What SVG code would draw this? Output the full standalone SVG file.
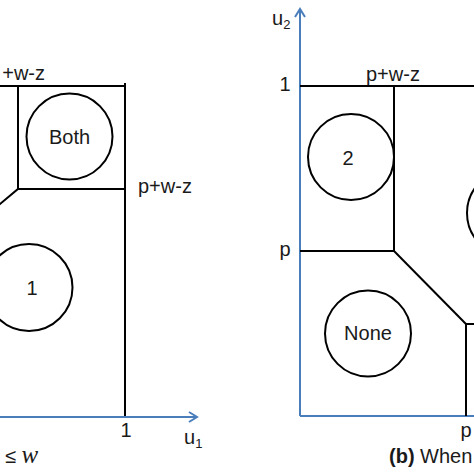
<svg xmlns="http://www.w3.org/2000/svg" width="474" height="474" viewBox="0 0 474 474">
<style>
.ln{stroke:#000;stroke-width:2;fill:none;stroke-linecap:square}
.ax{stroke:#4a7ebb;stroke-width:2;fill:none}
.c{stroke:#000;stroke-width:2;fill:none}
text{font-family:"Liberation Sans",Arial,sans-serif;font-size:20px;fill:#1a1a1a}
.m{text-anchor:middle}
.sub{font-size:13px}
</style>
<defs>
<marker id="arr" viewBox="0 0 12 12" refX="10" refY="6" markerWidth="12" markerHeight="12" markerUnits="userSpaceOnUse" orient="auto">
<path d="M2,1 L10,6 L2,11" fill="none" stroke="#4a7ebb" stroke-width="2"/>
</marker>
</defs>
<rect width="474" height="474" fill="#fff"/>
<g id="connectors">
<line class="ln" x1="0" y1="86" x2="125" y2="86"/>
<line class="ln" x1="18" y1="86" x2="18" y2="189"/>
<line class="ln" x1="18" y1="189" x2="125" y2="189"/>
<line class="ln" x1="18" y1="189" x2="0" y2="204"/>
<line class="ln" x1="125" y1="84" x2="125" y2="416"/>
<line class="ax" x1="0" y1="417" x2="197" y2="417" marker-end="url(#arr)"/>
<line class="ax" x1="300" y1="416" x2="300" y2="9" marker-end="url(#arr)"/>
<line class="ax" x1="300" y1="416" x2="474" y2="416"/>
<line class="ln" x1="301" y1="86" x2="474" y2="86"/>
<line class="ln" x1="394" y1="86" x2="394" y2="251"/>
<line class="ln" x1="301" y1="251" x2="394" y2="251"/>
<line class="ln" x1="394" y1="251" x2="466" y2="324"/>
<line class="ln" x1="466" y1="324" x2="466" y2="415"/>
<line class="ln" x1="466" y1="324" x2="474" y2="324"/>
</g>
<g id="node-both"><circle class="c" cx="69.5" cy="136.5" r="43"/><text class="m" x="69.5" y="144" font-size="21">Both</text></g>
<g id="node-1"><circle class="c" cx="29" cy="287.5" r="43.5"/><text class="m" x="32" y="295">1</text></g>
<g id="node-2"><circle class="c" cx="351" cy="157" r="43"/><text class="m" x="348" y="165">2</text></g>
<g id="node-right"><circle class="c" cx="510" cy="213" r="43"/></g>
<g id="node-none"><circle class="c" cx="368" cy="333.5" r="43"/><text class="m" x="368" y="340" font-size="21">None</text></g>
<g id="labels">
<text x="45" y="80" text-anchor="end">+w-z</text>
<text x="138" y="193">p+w-z</text>
<text class="m" x="126" y="437">1</text>
<text x="184" y="444">u<tspan class="sub" dy="4">1</tspan></text>
<text x="5" y="463" font-size="23">≤ <tspan font-family="Liberation Serif" font-style="italic" font-size="25">w</tspan></text>
<text x="272" y="25">u<tspan class="sub" dy="4">2</tspan></text>
<text class="m" x="285" y="91">1</text>
<text x="366" y="81">p+w-z</text>
<text class="m" x="285" y="256">p</text>
<text class="m" x="466" y="437">p</text>
<text x="389" y="463" font-size="22"><tspan font-weight="bold">(b)</tspan> When</text>
</g>
</svg>
